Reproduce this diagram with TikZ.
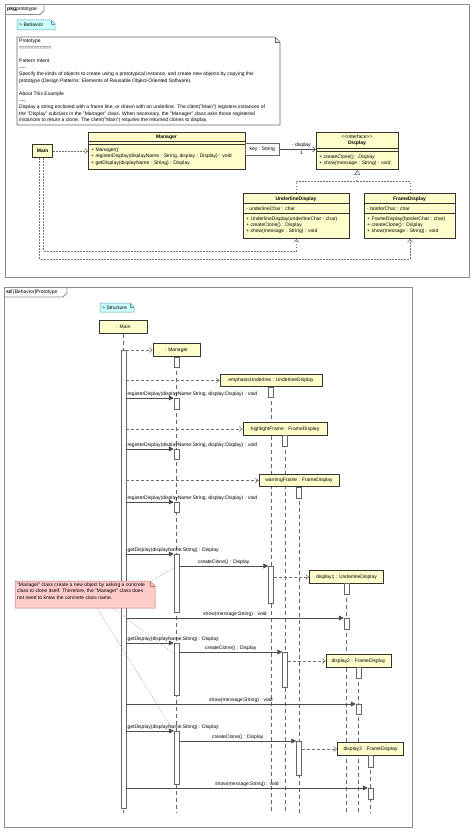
\documentclass[tikz,border=0pt]{standalone}
\usepackage{fontspec}
\setmainfont{Liberation Sans}
\usetikzlibrary{arrows.meta,backgrounds}

\definecolor{umlyellow}{HTML}{FFFFCC}
\definecolor{notecyan}{HTML}{CCFFFF}
\definecolor{cyanline}{HTML}{5E9AA6}
\definecolor{notepink}{HTML}{FFCCCC}
\definecolor{pinkline}{HTML}{C07070}
\definecolor{framegray}{HTML}{8C8C8C}

\begin{document}
\begin{tikzpicture}[x=1pt, y=-1pt, font=\fontsize{5}{6.6}\selectfont,
  frame/.style={draw=framegray, line width=0.8pt},
  cls/.style={draw=black!80, fill=umlyellow, line width=0.9pt, anchor=north west, inner sep=0pt},
  sep/.style={draw=black!80, line width=0.6pt},
  head/.style={draw=black!80, fill=umlyellow, line width=0.8pt, inner sep=0pt, minimum height=12.5pt},
  act/.style={draw=black!60, fill=white, line width=0.5pt, anchor=north, minimum width=5pt, inner sep=0pt},
  txt/.style={anchor=west, inner sep=0pt},
  life/.style={draw=black!60, dash pattern=on 4pt off 3pt, line width=0.6pt},
  msg/.style={draw=black!70, line width=0.6pt, -{Triangle[length=5pt,width=5pt]}},
  create/.style={draw=black!55, dash pattern=on 3pt off 2pt, line width=0.6pt, -{Straight Barb[length=3pt,width=5pt]}},
  dep/.style={draw=black!55, dash pattern=on 1.5pt off 1.5pt, line width=0.6pt, -{Straight Barb[length=3pt,width=5pt]}},
  real/.style={draw=black!55, dash pattern=on 1.5pt off 1.5pt, line width=0.6pt},
  realize/.style={real, -{Triangle[open, length=5pt, width=6pt]}},
  assoc/.style={draw=black!70, line width=0.6pt, -{Straight Barb[length=3pt,width=5pt]}},
  anchorline/.style={draw=black!35, dash pattern=on 1pt off 1pt, line width=0.5pt},
  lbl/.style={anchor=south west, inner sep=1pt},
  mlbl/.style={above, inner sep=1pt}]

\useasboundingbox (0,0) rectangle (474,832);

% package frame
\draw[frame] (5,4) rectangle (469,277);
\draw[frame] (5,14.5) -- (40,14.5) -- (44,10.5) -- (44,4);
\node[txt] (pkgtab) at (7,9.5) {\textbf{pkg}prototype};

% notes
\draw[draw=cyanline, fill=notecyan, line width=0.5pt] (17,20) -- (51,20) -- (55,24) -- (55,30) -- (17,30) -- cycle;
\draw[draw=cyanline, line width=0.5pt] (51,20) -- (51,24) -- (55,24);
\node[txt] (behavior) at (19,25) {> Behavior};

\draw[draw=black!60, fill=white, line width=0.6pt] (17,37) -- (275,37) -- (280,42) -- (280,125) -- (17,125) -- cycle;
\draw[draw=black!60, line width=0.6pt] (275,37) -- (275,42) -- (280,42);
\node[anchor=north west, inner sep=0pt, align=left] (intent) at (19,39) {Prototype\\
===========\\[6.6pt]
Pattern Intent\\
-{}-{}-{}-\\
Specify the kinds of objects to create using a prototypical instance, and create new objects by copying this\\
prototype (Design Patterns: Elements of Reusable Object-Oriented Software).\\[6.6pt]
About This Example\\
-{}-{}-{}-\\
Display a string enclosed with a frame line, or drawn with an underline. The client("Main") registers instances of\\
the "Display" subclass in the "Manager" class. When necessary, the "Manager" class asks those registered\\
instances to return a clone. The client("Main") requires the returned clones to display.};

% classes
\node[cls, minimum width=20pt, minimum height=13pt, line width=1.3pt] (main) at (32,144) {\bfseries Main};

\node[cls, minimum width=157pt, minimum height=37pt] (mgr) at (88,132) {};
\node (mgrname) at (166.5,137) {\bfseries Manager};
\draw[sep] (88,141) -- (245,141);
\draw[sep] (88,144) -- (245,144);
\node[txt] (mgrm1) at (91,150) {+ Manager()};
\node[txt] (mgrm2) at (91,156.5) {+ registerDisplay(displayName : String, display : Display) : void};
\node[txt] (mgrm3) at (91,163) {+ getDisplay(displayName : String) : Display};

\node[draw=black!60, fill=white, line width=0.5pt, minimum width=34pt, minimum height=12pt, anchor=north west, inner sep=0pt] (key) at (245,143) {key : String};

\node[cls, minimum width=82pt, minimum height=37pt] (disp) at (316,132) {};
\node (dispst) at (357,136.5) {{<}{<}interface{>}{>}};
\node (dispname) at (357,143.5) {\bfseries Display};
\draw[sep] (316,148.5) -- (398,148.5);
\draw[sep] (316,151) -- (398,151);
\node[txt] (dispm1) at (319,157) {\itshape + createClone() : Display};
\node[txt] (dispm2) at (319,163) {\itshape + show(message : String) : void};

\node[cls, minimum width=106pt, minimum height=45pt] (ud) at (243,193) {};
\node (udname) at (296,199) {\bfseries UnderlineDisplay};
\draw[sep] (243,203.5) -- (349,203.5);
\node[txt] (uda) at (246,209) {- underlineChar : char};
\draw[sep] (243,213.5) -- (349,213.5);
\node[txt] (udm1) at (246,219) {+ UnderlineDisplay(underlineChar : char)};
\node[txt] (udm2) at (246,225) {+ createClone() : Display};
\node[txt] (udm3) at (246,231) {+ show(message : String) : void};

\node[cls, minimum width=91pt, minimum height=45pt] (fd) at (364,193) {};
\node (fdname) at (409.5,199) {\bfseries FrameDisplay};
\draw[sep] (364,203.5) -- (455,203.5);
\node[txt] (fda) at (367,209) {- borderChar : char};
\draw[sep] (364,213.5) -- (455,213.5);
\node[txt] (fdm1) at (367,219) {+ FrameDisplay(borderChar : char)};
\node[txt] (fdm2) at (367,225) {+ createClone() : Display};
\node[txt] (fdm3) at (367,231) {+ show(message : String) : void};

% relations
\draw[assoc] (key.east) -- (key.east -| disp.west)
  node[pos=0.6, above, inner sep=1pt] (rolelbl) {- display}
  node[pos=0.6, below, inner sep=1.5pt] (multlbl) {1};
\coordinate (junc) at (357,181);
\draw[real] (ud.north) |- (junc);
\draw[real] (fd.north) |- (junc);
\draw[realize] (junc) -- (disp.south);
\draw[dep] (main.east) -- (main.east -| mgr.west);
\draw[dep] ([xshift=1pt]main.south) |- ([yshift=-12pt]ud.south) -- (ud.south);
\draw[dep] ([xshift=-3pt]main.south) |- ([yshift=-20pt]fd.south) -- (fd.south);

% sequence frame
\draw[frame] (4,287) rectangle (412,827);
\draw[frame] (4,297) -- (63,297) -- (67,293) -- (67,287);
\node[txt] (sdtab) at (6,292) {\textbf{sd} [Behavior]Prototype};

\draw[draw=cyanline, fill=notecyan, line width=0.5pt] (100,303) -- (130,303) -- (134,307) -- (134,312) -- (100,312) -- cycle;
\draw[draw=cyanline, line width=0.5pt] (130,303) -- (130,307) -- (134,307);
\node[txt] (structure) at (102,307.5) {> Structure};

% lifeline heads
\node[head, minimum width=48pt] (lMain) at (123.5,327) {: Main};
\node[head, minimum width=47pt] (lMgr) at (176.5,350) {: Manager};
\node[head, minimum width=102pt] (lEU) at (271,380.5) {emphasisUnderline : UnderlineDisplay};
\node[head, minimum width=84pt] (lHF) at (285,429) {highlightFrame : FrameDisplay};
\node[head, minimum width=80pt] (lWF) at (299,480.5) {warningFrame : FrameDisplay};
\node[head, minimum width=74pt] (lD1) at (346.5,577) {display1 : UnderlineDisplay};
\node[head, minimum width=65pt] (lD2) at (358.5,661) {display2 : FrameDisplay};
\node[head, minimum width=66pt] (lD3) at (370.5,749) {display3 : FrameDisplay};

\coordinate (bot) at (0,813);
\begin{scope}[on background layer]
\draw[life] (lMain.south) -- (lMain.south |- bot);
\draw[life] (lMgr.south) -- (lMgr.south |- bot);
\draw[life] (lEU.south) -- (lEU.south |- bot);
\draw[life] (lHF.south) -- (lHF.south |- bot);
\draw[life] (lWF.south) -- (lWF.south |- bot);
\draw[life] (lD1.south) -- (lD1.south |- bot);
\draw[life] (lD2.south) -- (lD2.south |- bot);
\draw[life] (lD3.south) -- (lD3.south |- bot);
\end{scope}

% activations
\node[act, minimum height=458pt] (aMain) at (123.5,350) {};
\node[act, minimum height=10pt] (aM1) at (176.5,357) {};
\node[act, minimum height=11pt] (aM2) at (176.5,398) {};
\node[act, minimum height=10pt] (aM3) at (176.5,449) {};
\node[act, minimum height=10pt] (aM4) at (176.5,502) {};
\node[act, minimum height=58pt] (aM5) at (176.5,554) {};
\node[act, minimum height=52pt] (aM6) at (176.5,643) {};
\node[act, minimum height=53pt] (aM7) at (176.5,731) {};
\node[act, minimum height=10pt] (aE1) at (271,387) {};
\node[act, minimum height=37pt] (aE2) at (271,566) {};
\node[act, minimum height=11pt] (aH1) at (285,435) {};
\node[act, minimum height=35pt] (aH2) at (285,652) {};
\node[act, minimum height=11pt] (aW1) at (299,487) {};
\node[act, minimum height=34pt] (aW2) at (299,741) {};
\node[act, minimum height=11pt] (aD1a) at (346.5,583) {};
\node[act, minimum height=11pt] (aD1b) at (346.5,618) {};
\node[act, minimum height=11pt] (aD2a) at (358.5,667) {};
\node[act, minimum height=10pt] (aD2b) at (358.5,704) {};
\node[act, minimum height=12pt] (aD3a) at (370.5,755) {};
\node[act, minimum height=11pt] (aD3b) at (370.5,788) {};

% messages
\draw[create] (aMain.north east) -- (lMgr.west);
\draw[create] (aMain.east |- lEU.west) -- (lEU.west);
\draw[msg] (aMain.east |- aM2.north) node[lbl] (reg1) {registerDisplay(displayName:String, display:Display) : void} -- (aM2.north west);
\draw[create] (aMain.east |- lHF.west) -- (lHF.west);
\draw[msg] (aMain.east |- aM3.north) node[lbl] (reg2) {registerDisplay(displayName:String, display:Display) : void} -- (aM3.north west);
\draw[create] (aMain.east |- lWF.west) -- (lWF.west);
\draw[msg] (aMain.east |- aM4.north) node[lbl] (reg3) {registerDisplay(displayName:String, display:Display) : void} -- (aM4.north west);

\draw[msg] (aMain.east |- aM5.north) node[lbl] (get1) {getDisplay(displayName:String) : Display} -- (aM5.north west);
\draw[msg] (aM5.east |- aE2.north) -- node[mlbl] (clone1) {createClone() : Display} (aE2.north west);
\draw[create] (aE2.east |- lD1.west) -- (lD1.west);
\draw[msg] (aMain.east |- aD1b.north) -- node[mlbl] (show1) {show(message:String) : void} (aD1b.north west);

\draw[msg] (aMain.east |- aM6.north) node[lbl] (get2) {getDisplay(displayName:String) : Display} -- (aM6.north west);
\draw[msg] (aM6.east |- aH2.north) -- node[mlbl] (clone2) {createClone() : Display} (aH2.north west);
\draw[create] (aH2.east |- lD2.west) -- (lD2.west);
\draw[msg] (aMain.east |- aD2b.north) -- node[mlbl] (show2) {show(message:String) : void} (aD2b.north west);

\draw[msg] (aMain.east |- aM7.north) node[lbl] (get3) {getDisplay(displayName:String) : Display} -- (aM7.north west);
\draw[msg] (aM7.east |- aW2.north) -- node[mlbl] (clone3) {createClone() : Display} (aW2.north west);
\draw[create] (aW2.east |- lD3.west) -- (lD3.west);
\draw[msg] (aMain.east |- aD3b.north) -- node[mlbl] (show3) {show(message:String) : void} (aD3b.north west);

% comment on Manager
\draw[draw=pinkline, fill=notepink, line width=0.5pt] (15,581) -- (150,581) -- (155,586) -- (155,608) -- (15,608) -- cycle;
\draw[draw=pinkline, line width=0.5pt] (150,581) -- (150,586) -- (155,586);
\node[anchor=north west, inner sep=0pt, align=left, font=\fontsize{5}{6.5}\selectfont] (cmt) at (17,582.5) {"Manager" class create a new object by asking a concrete\\
class to clone itself. Therefore, the "Manager" class does\\
not need to know the concrete class name.};
\draw[anchorline] (150,582) -- (aM5.west |- 0,568);
\draw[anchorline] (113,608) -- (aM6.west |- 0,654);
\draw[anchorline] (97,608) -- (aM7.north west);

\end{tikzpicture}
\end{document}
